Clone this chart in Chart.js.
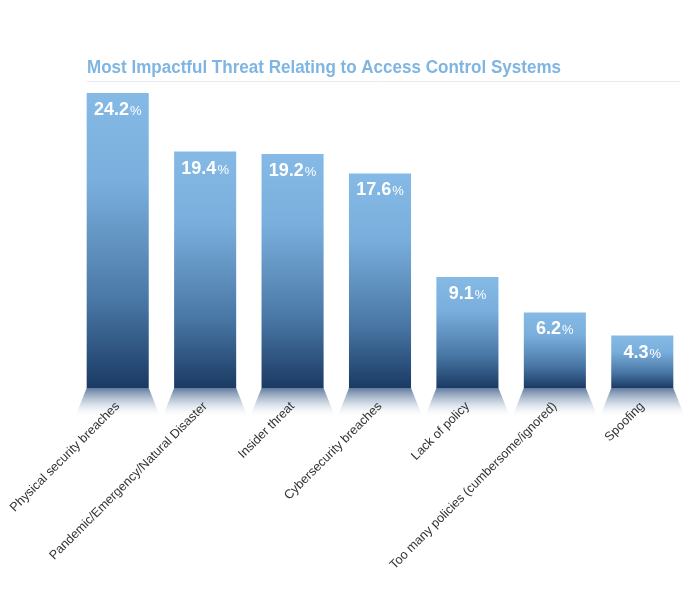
<!DOCTYPE html>
<html><head><meta charset="utf-8">
<script src="https://cdn.jsdelivr.net/npm/chart.js@4/dist/chart.umd.min.js"></script>
<style>html,body{margin:0;padding:0;background:#fff}#wrap{width:700px;height:613px}</style>
</head><body><div id="wrap"><canvas id="c" width="700" height="613"></canvas></div>
<script>
const titleText = "Most Impactful Threat Relating to Access Control Systems";
const categories = ["Physical security breaches","Pandemic/Emergency/Natural Disaster","Insider threat","Cybersecurity breaches","Lack of policy","Too many policies (cumbersome/ignored)","Spoofing"];
const values = [24.2, 19.4, 19.2, 17.6, 9.1, 6.2, 4.3];
const yMax = 24.2;

const FONT = "'Liberation Sans', Arial, Helvetica, sans-serif";

const titlePlugin = {
  id: 'titleDraw',
  afterDraw(chart) {
    const ctx = chart.ctx;
    ctx.save();
    ctx.font = "bold 17.5px " + FONT;
    ctx.fillStyle = "#7fb5e2";
    ctx.textBaseline = "alphabetic";
    const w = ctx.measureText(titleText).width;
    const target = 474;
    ctx.translate(87, 73);
    ctx.scale(target / w, 1);
    ctx.fillText(titleText, 0, 0);
    ctx.restore();
    ctx.save();
    ctx.strokeStyle = "#e2ebf3";
    ctx.lineWidth = 1;
    ctx.beginPath();
    ctx.moveTo(87, 81.5); ctx.lineTo(680, 81.5);
    ctx.stroke();
    ctx.restore();
  }
};

const reflectPlugin = {
  id: 'reflect',
  beforeDraw(chart) {
    const ctx = chart.ctx;
    const meta = chart.getDatasetMeta(0);
    meta.data.forEach(bar => {
      const half = bar.width / 2;
      const y0 = bar.base;
      const h = 30, spread = 12;
      const g = ctx.createLinearGradient(0, y0, 0, y0 + h);
      g.addColorStop(0, "rgba(70,100,140,0.85)");
      g.addColorStop(0.45, "rgba(150,170,195,0.55)");
      g.addColorStop(1, "rgba(255,255,255,0)");
      ctx.save();
      ctx.fillStyle = g;
      ctx.beginPath();
      ctx.moveTo(bar.x - half, y0);
      ctx.lineTo(bar.x + half, y0);
      ctx.lineTo(bar.x + half + spread, y0 + h);
      ctx.lineTo(bar.x - half - spread, y0 + h);
      ctx.closePath();
      ctx.fill();
      ctx.restore();
    });
  }
};

const valuePlugin = {
  id: 'values',
  afterDatasetsDraw(chart) {
    const ctx = chart.ctx;
    const meta = chart.getDatasetMeta(0);
    meta.data.forEach((bar, i) => {
      const num = values[i].toFixed(1);
      ctx.save();
      ctx.fillStyle = "#ffffff";
      ctx.textBaseline = "alphabetic";
      ctx.font = "bold 18px " + FONT;
      const w1 = ctx.measureText(num).width;
      ctx.font = "13px " + FONT;
      const w2 = ctx.measureText("%").width;
      const x0 = bar.x - (w1 + w2 + 1) / 2;
      const yb = bar.y + 22;
      ctx.font = "bold 18px " + FONT;
      ctx.fillText(num, x0, yb);
      ctx.font = "13px " + FONT;
      ctx.fillText("%", x0 + w1 + 1, yb);
      ctx.restore();
    });
  }
};

new Chart(document.getElementById('c'), {
  type: 'bar',
  data: {
    labels: categories,
    datasets: [{
      data: values,
      backgroundColor: (c) => {
        const chart = c.chart;
        const area = chart.chartArea;
        if (!area || c.type !== 'data') return "#6fa6d6";
        const ys = chart.scales.y;
        const top = ys.getPixelForValue(c.raw);
        const bot = ys.getPixelForValue(0);
        const g = chart.ctx.createLinearGradient(0, top, 0, bot);
        g.addColorStop(0, "#85bae6");
        g.addColorStop(0.3, "#7aafdd");
        g.addColorStop(0.7, "#4a78a6");
        g.addColorStop(1, "#1a3a63");
        return g;
      },
      borderWidth: 0,
      barPercentage: 0.71,
      categoryPercentage: 1.0
    }]
  },
  options: {
    responsive: false,
    animation: false,
    devicePixelRatio: 1,
    layout: { padding: { left: 74, right: 14, top: 93, bottom: 0 } },
    plugins: { legend: { display: false }, title: { display: false }, tooltip: { enabled: false } },
    scales: {
      y: { display: false, min: 0, max: yMax },
      x: {
        grid: { display: false, drawTicks: false },
        border: { display: false },
        ticks: {
          autoSkip: false, minRotation: 45, maxRotation: 45,
          color: "#333333", font: { family: FONT, size: 12.6 }, padding: 11
        },
        afterFit(scale) { scale.height = 225; scale.paddingLeft = 0; scale.paddingRight = 0; }
      }
    }
  },
  plugins: [titlePlugin, reflectPlugin, valuePlugin]
});
</script>
</body></html>
